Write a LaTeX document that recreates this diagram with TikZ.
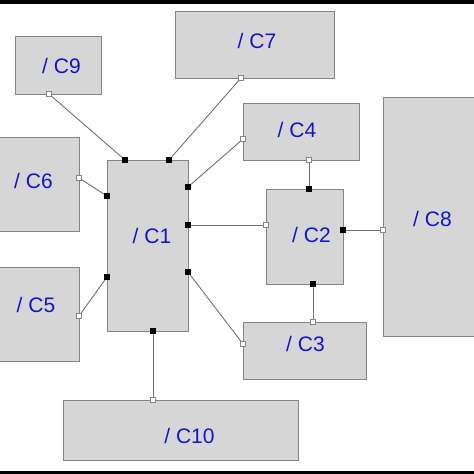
\documentclass[tikz,border=0pt]{standalone}
\usepackage{fontspec}
\setmainfont{Liberation Sans}
\usepackage{xcolor}
\definecolor{boxline}{HTML}{858585}
\definecolor{boxfill}{HTML}{D6D6D6}
\definecolor{wiregray}{HTML}{707070}
\definecolor{labelblue}{HTML}{1414CC}

\begin{document}
\begin{tikzpicture}[x=1pt, y=-1pt]
  \tikzstyle{box}=[rectangle, draw=boxline, fill=boxfill, line width=1pt, inner sep=0pt]
  \tikzstyle{portout}=[rectangle, fill=black, minimum size=6pt, inner sep=0pt]
  \tikzstyle{portin}=[rectangle, draw=boxline, fill=white, line width=0.8pt, minimum size=5pt, inner sep=0pt]
  \tikzstyle{lbl}=[font=\fontsize{21}{21}\selectfont, text=labelblue, inner sep=0pt]
  \tikzstyle{wire}=[draw=wiregray, line width=0.9pt]

  \useasboundingbox (0,0) rectangle (474,474);
  \clip (0,0) rectangle (474,474);

  % Bandes haut et bas
  \fill[black] (0,0) rectangle (474,4);
  \fill[black] (0,470.5) rectangle (474,474);

  % Composants
  \node[box, minimum width=86pt, minimum height=58pt] (c9) at (58,65) {};
  \node[box, minimum width=159pt, minimum height=67pt] (c7) at (254.5,44.5) {};
  \node[box, minimum width=85pt, minimum height=94pt] (c6) at (36.5,184) {};
  \node[box, minimum width=81pt, minimum height=171pt] (c1) at (147.5,245.5) {};
  \node[box, minimum width=116pt, minimum height=57pt] (c4) at (301,131.5) {};
  \node[box, minimum width=97pt, minimum height=239pt] (c8) at (431.5,216.5) {};
  \node[box, minimum width=77pt, minimum height=95pt] (c2) at (304.5,236.5) {};
  \node[box, minimum width=85pt, minimum height=94pt] (c5) at (36.5,314) {};
  \node[box, minimum width=235pt, minimum height=60pt] (c10) at (180.5,430) {};
  \node[box, minimum width=123pt, minimum height=57pt] (c3) at (304.5,350.5) {};

  % Noms
  \node[lbl] (c9-lbl) at (61.5,66) {/ C9};
  \node[lbl] (c7-lbl) at (257,41) {/ C7};
  \node[lbl] (c6-lbl) at (33.5,181) {/ C6};
  \node[lbl] (c1-lbl) at (152,236) {/ C1};
  \node[lbl] (c2-lbl) at (311.5,235) {/ C2};
  \node[lbl] (c4-lbl) at (297,130) {/ C4};
  \node[lbl] (c8-lbl) at (432.5,219) {/ C8};
  \node[lbl] (c5-lbl) at (36,304.5) {/ C5};
  \node[lbl] (c3-lbl) at (305.5,344) {/ C3};
  \node[lbl] (c10-lbl) at (189.5,436) {/ C10};

  % Ports
  \node[portin] (c9s) at (49,94) {};
  \node[portin] (c7s) at (241,78) {};
  \node[portin] (c6e) at (79,178) {};
  \node[portin] (c4w) at (243,139) {};
  \node[portin] (c4s) at (309,160) {};
  \node[portin] (c2w) at (266,225) {};
  \node[portin] (c8w) at (383,230) {};
  \node[portin] (c5e) at (79,316) {};
  \node[portin] (c3w) at (243,344) {};
  \node[portin] (c3n) at (313,322) {};
  \node[portin] (c10n) at (153,400) {};
  \node[portout] (c1n1) at (125,160) {};
  \node[portout] (c1n2) at (169,160) {};
  \node[portout] (c1w1) at (107,196) {};
  \node[portout] (c1w2) at (107,277) {};
  \node[portout] (c1e1) at (188,187) {};
  \node[portout] (c1e2) at (188,225) {};
  \node[portout] (c1e3) at (188,272) {};
  \node[portout] (c1s) at (153,331) {};
  \node[portout] (c2n) at (309,189) {};
  \node[portout] (c2e) at (343,230) {};
  \node[portout] (c2s) at (313,284) {};

  % Liaisons
  \draw[wire] (c9s) -- (c1n1);
  \draw[wire] (c7s) -- (c1n2);
  \draw[wire] (c6e) -- (c1w1);
  \draw[wire] (c5e) -- (c1w2);
  \draw[wire] (c1e1) -- (c4w);
  \draw[wire] (c1e2) -- (c2w);
  \draw[wire] (c1e3) -- (c3w);
  \draw[wire] (c1s) -- (c10n);
  \draw[wire] (c4s) -- (c2n);
  \draw[wire] (c2e) -- (c8w);
  \draw[wire] (c2s) -- (c3n);
\end{tikzpicture}
\end{document}
